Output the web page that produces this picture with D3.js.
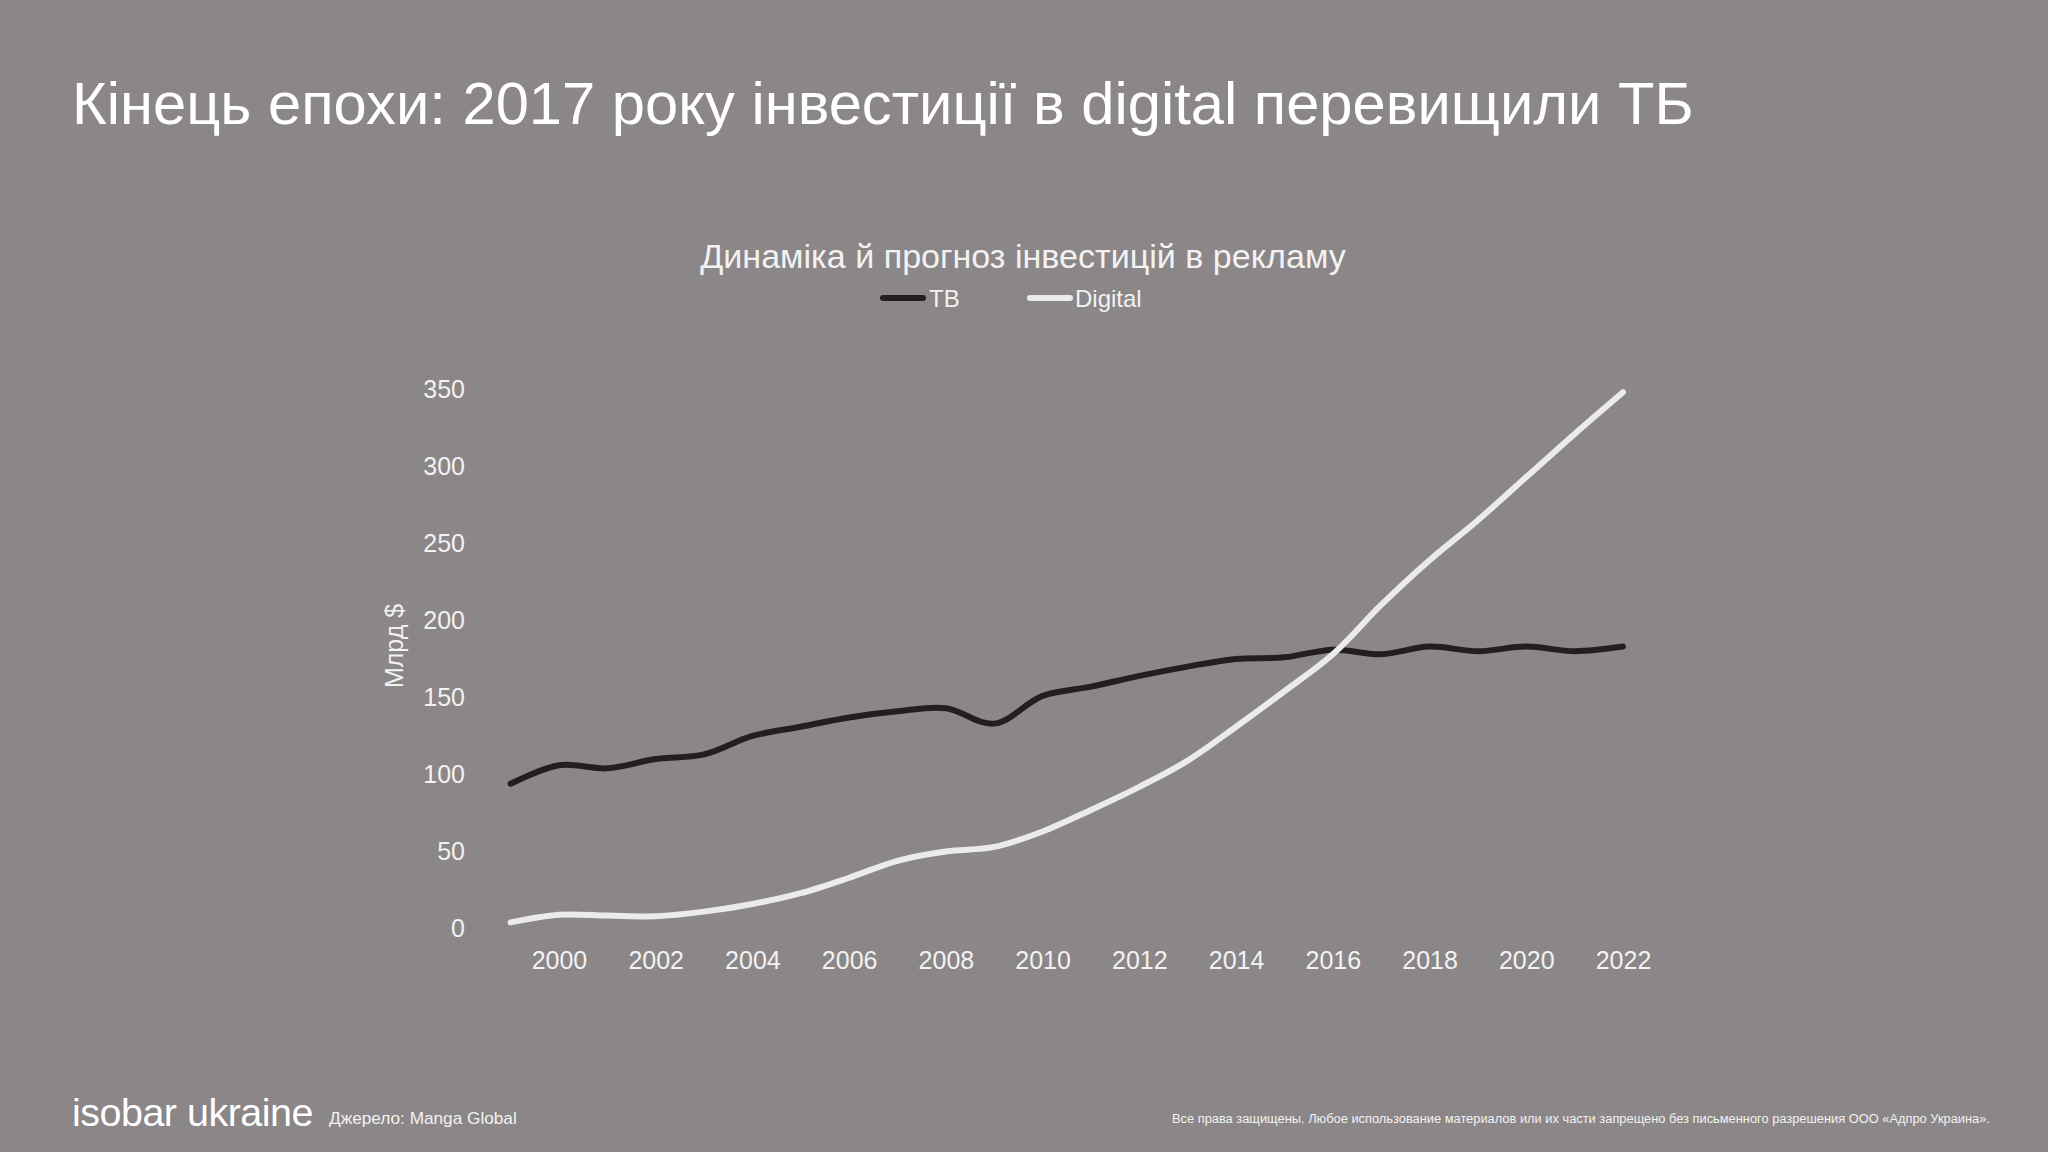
<!DOCTYPE html>
<html>
<head>
<meta charset="utf-8">
<script src="https://cdn.jsdelivr.net/npm/d3@7"></script>
<style>
  html, body { margin: 0; padding: 0; background: #8b8687; }
  svg { display: block; }
  text { font-family: "Liberation Sans", Arial, sans-serif; }
</style>
</head>
<body>
<svg id="chart" width="2048" height="1152"></svg>
<script>
const years = [1999, 2000, 2001, 2002, 2003, 2004, 2005, 2006, 2007, 2008, 2009, 2010,
               2011, 2012, 2013, 2014, 2015, 2016, 2017, 2018, 2019, 2020, 2021, 2022];
const tvValues = [94, 106, 104, 110, 113, 125, 131, 137, 141, 143, 133, 151,
                  157, 164, 170, 175, 176, 181, 178, 183, 180, 183, 180, 183];
const digitalValues = [4, 9, 8.5, 8, 11, 16, 23, 33, 44, 50, 53, 63,
                       77, 92, 109, 131, 154, 178, 210, 239, 265, 293, 321, 348];
const seriesNames = ["ТВ", "Digital"];
const xTickValues = [2000, 2002, 2004, 2006, 2008, 2010, 2012, 2014, 2016, 2018, 2020, 2022];
const yTickValues = [0, 50, 100, 150, 200, 250, 300, 350];

const titleText = "Кінець епохи: 2017 року інвестиції в digital перевищили ТБ";
const chartTitle = "Динаміка й прогноз інвестицій в рекламу";
const yAxisTitle = "Млрд $";
const sourceText = "Джерело: Manga Global";
const logoText = "isobar ukraine";
const copyrightText = "Все права защищены. Любое использование материалов или их части запрещено без письменного разрешения ООО «Адпро Украина».";

const svg = d3.select("#chart");
const BG = "#8b8687";
const TV_COLOR = "#231f20";
const DIG_COLOR = "#ecebeb";
const TEXT_COLOR = "#f2f2f2";

svg.append("rect").attr("width", 2048).attr("height", 1152).attr("fill", BG);

function fitWidth(sel, w) {
  const n = sel.node();
  const cur = n.getComputedTextLength();
  const fs = parseFloat(sel.attr("font-size"));
  if (cur > 0) sel.attr("font-size", (fs * w / cur).toFixed(2));
  return sel;
}

// Title
fitWidth(svg.append("text")
  .attr("x", 72).attr("y", 124)
  .attr("font-size", 60).attr("fill", "#ffffff")
  .text(titleText), 1622);

// Chart title
fitWidth(svg.append("text")
  .attr("x", 1023).attr("y", 268)
  .attr("text-anchor", "middle")
  .attr("font-size", 31).attr("fill", TEXT_COLOR)
  .text(chartTitle), 646);

// Scales
const x = d3.scaleLinear().domain([1999, 2022]).range([510.6, 1623]);
const y = d3.scaleLinear().domain([0, 350]).range([928.6, 389.2]);

// Axes
const yAxis = d3.axisLeft(y).tickValues(yTickValues).tickSize(0).tickPadding(0);
const gy = svg.append("g").attr("transform", "translate(465,0)").call(yAxis);
gy.select(".domain").remove();
gy.selectAll("text").attr("font-size", 25).attr("fill", TEXT_COLOR)
  .attr("font-family", "\"Liberation Sans\", Arial, sans-serif");

const xAxis = d3.axisBottom(x).tickValues(xTickValues).tickFormat(d3.format("d")).tickSize(0).tickPadding(0);
const gx = svg.append("g").attr("transform", "translate(0,951)").call(xAxis);
gx.select(".domain").remove();
gx.selectAll("text").attr("font-size", 25).attr("fill", TEXT_COLOR)
  .attr("font-family", "\"Liberation Sans\", Arial, sans-serif");

// Y axis title
svg.append("text")
  .attr("transform", "translate(403,646) rotate(-90)")
  .attr("text-anchor", "middle")
  .attr("font-size", 25).attr("fill", TEXT_COLOR)
  .text(yAxisTitle);

// Lines
const line = d3.line()
  .x((d, i) => x(years[i]))
  .y(d => y(d))
  .curve(d3.curveCatmullRom.alpha(0.5));

svg.append("path").datum(tvValues)
  .attr("d", line).attr("fill", "none")
  .attr("stroke", TV_COLOR).attr("stroke-width", 6)
  .attr("stroke-linecap", "round").attr("stroke-linejoin", "round");

svg.append("path").datum(digitalValues)
  .attr("d", line).attr("fill", "none")
  .attr("stroke", DIG_COLOR).attr("stroke-width", 6)
  .attr("stroke-linecap", "round").attr("stroke-linejoin", "round");

// Legend
const legendItems = [
  { name: seriesNames[0], color: TV_COLOR, x0: 883, x1: 923, tx: 929 },
  { name: seriesNames[1], color: DIG_COLOR, x0: 1030, x1: 1070, tx: 1075 }
];
const lg = svg.append("g");
legendItems.forEach(it => {
  lg.append("line").attr("x1", it.x0).attr("x2", it.x1)
    .attr("y1", 298).attr("y2", 298)
    .attr("stroke", it.color).attr("stroke-width", 6).attr("stroke-linecap", "round");
  lg.append("text").attr("x", it.tx).attr("y", 306.5)
    .attr("font-size", 24).attr("fill", TEXT_COLOR).text(it.name);
});

// Footer
fitWidth(svg.append("text")
  .attr("x", 72).attr("y", 1126)
  .attr("font-family", "Lato, \"Open Sans\", sans-serif")
  .attr("font-size", 40).attr("fill", "#ffffff")
  .attr("letter-spacing", "-0.5")
  .text(logoText), 241);

fitWidth(svg.append("text")
  .attr("x", 329).attr("y", 1124)
  .attr("font-size", 17).attr("fill", TEXT_COLOR)
  .text(sourceText), 188);

fitWidth(svg.append("text")
  .attr("x", 1172).attr("y", 1123)
  .attr("font-size", 13).attr("fill", TEXT_COLOR)
  .text(copyrightText), 818);
</script>
</body>
</html>
